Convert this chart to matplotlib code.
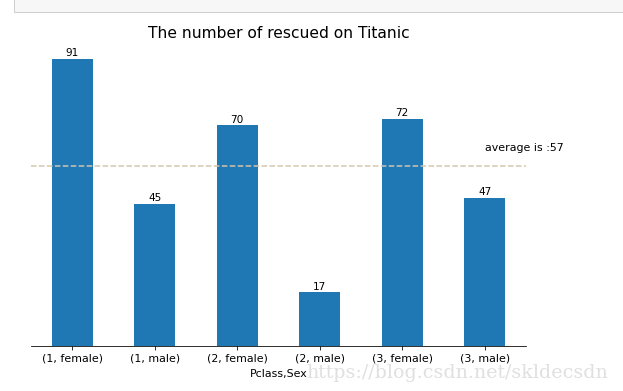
import matplotlib.pyplot as plt
from matplotlib.patches import Rectangle

# data
labels = ['(1, female)', '(1, male)', '(2, female)', '(2, male)', '(3, female)', '(3, male)']
rescued = [91, 45, 70, 17, 72, 47]
average = 57

fig = plt.figure(figsize=(623 / 72, 391 / 72), dpi=72)
ax = fig.add_axes([0.0498, 0.115, 0.7945, 0.77])

x = range(len(labels))
bars = ax.bar(x, rescued, width=0.5, color='#1f77b4')
for b, v in zip(bars, rescued):
    ax.text(b.get_x() + b.get_width() / 2, v + 0.3, str(v), ha='center', va='bottom', fontsize=10.5)

ax.axhline(average, color='#d3c6ae', linestyle='--', linewidth=1.5)
ax.text(5, 61.3, 'average is :%d' % average, ha='left', va='bottom', fontsize=11)

ax.set_xlim(-0.5, 5.5)
ax.set_ylim(0, 95.55)
ax.set_xticks(list(x))
ax.set_xticklabels(labels, rotation=0, fontsize=11)
ax.set_yticks([])
ax.set_xlabel('Pclass,Sex', fontsize=11, labelpad=5.5)
ax.set_title('The number of rescued on Titanic', fontsize=15.5, pad=7)
for s in ['top', 'right', 'left']:
    ax.spines[s].set_visible(False)

# notebook cell fragment and watermark
fig.patches.append(Rectangle((14 / 623, 1 - 12 / 391), 1, 0.05, transform=fig.transFigure,
                             facecolor='#f7f7f7', edgecolor='#cfcfcf', linewidth=1))
fig.text(306 / 623, 1 - 373 / 391, 'https://blog.csdn.net/skldecsdn', fontsize=19,
         family='DejaVu Serif', color='#e0e0e0', va='center', ha='left')

fig.savefig('out.png', dpi=72)
